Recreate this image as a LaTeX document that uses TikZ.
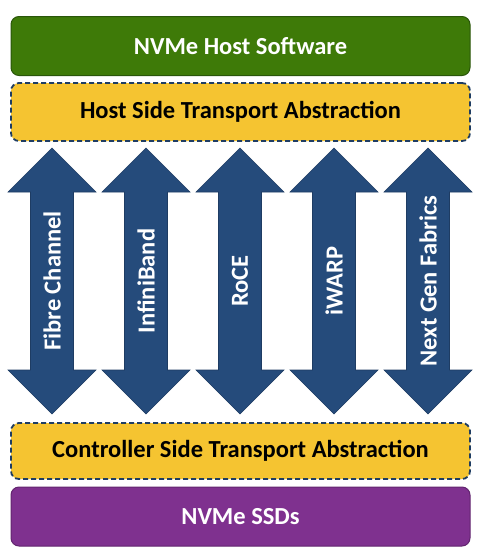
\documentclass[tikz,border=0pt]{standalone}
\usepackage{fontspec}
\setmainfont{Carlito}
\definecolor{hostgreen}{HTML}{3E7A08}
\definecolor{hostgreenb}{HTML}{2A560A}
\definecolor{absyellow}{HTML}{F5C431}
\definecolor{navy}{HTML}{254B7B}
\definecolor{navyb}{HTML}{1E3C63}
\definecolor{dashnavy}{HTML}{1F3D63}
\definecolor{ssdpurple}{HTML}{7F318F}
\definecolor{ssdpurpleb}{HTML}{62256F}
\tikzset{
  layer/.style={rounded corners=8pt, line width=1pt, minimum width=459pt, inner sep=0pt, font=\fontsize{24.5}{28}\selectfont\bfseries},
  solidlayer/.style={layer, text=white},
  dashlayer/.style={layer, fill=absyellow, draw=dashnavy, line width=1.8pt, text=black, dash pattern=on 5pt off 3pt},
  fabric/.style={fill=navy, draw=navyb, line width=0.6pt},
  fablabel/.style={rotate=90, text=white, font=\fontsize{24.5}{28}\selectfont\bfseries, inner sep=0pt}
}
\begin{document}
\begin{tikzpicture}[x=1pt,y=-1pt]
\useasboundingbox (0,0) rectangle (481,560);
\node[solidlayer, fill=hostgreen, draw=hostgreenb, minimum height=59pt] (host) at (240.5,46) {NVMe Host Software};
\node[dashlayer, minimum height=58pt] (hsta) at (240.5,112) {Host Side Transport Abstraction};
\node[dashlayer, minimum height=56pt] (csta) at (240.5,451) {Controller Side Transport Abstraction};
\node[solidlayer, fill=ssdpurple, draw=ssdpurpleb, minimum height=59pt] (ssd) at (240.5,516.5) {NVMe SSDs};
\foreach \cx/\nm/\lab in {52/fc/Fibre Channel, 146/ib/InfiniBand, 240/roce/RoCE, 334/iwarp/iWARP, 428/ngf/Next Gen Fabrics}{
  \draw[fabric] (\cx,148) -- (\cx+44,192) -- (\cx+21.5,192) -- (\cx+21.5,370) -- (\cx+44,370)
     -- (\cx,414) -- (\cx-44,370) -- (\cx-21.5,370) -- (\cx-21.5,192) -- (\cx-44,192) -- cycle;
  \node[fablabel] (\nm) at (\cx,281) {\lab};
}
\end{tikzpicture}
\end{document}
